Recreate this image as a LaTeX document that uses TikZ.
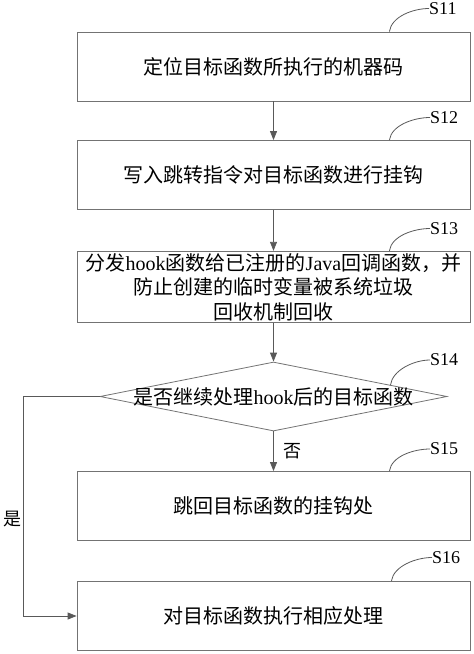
\documentclass[tikz,border=0pt]{standalone}
\usepackage{fontspec}
\setmainfont{Liberation Serif}
\newfontfamily\cjk{Noto Sans CJK SC}
\usetikzlibrary{shapes.geometric, arrows.meta}
\newcommand{\lat}[1]{{\rmfamily #1}}

\begin{document}
\begin{tikzpicture}[
    x=1pt, y=-1pt,
    box/.style={rectangle, draw=black!55, line width=0.8pt, minimum height=69pt, minimum width=393pt, align=center, inner sep=2pt, font=\cjk\fontsize{20}{24.5}\selectfont},
    decision/.style={diamond, draw=black!55, line width=0.8pt, minimum width=347pt, minimum height=69pt, inner sep=0pt},
    steplabel/.style={anchor=west, inner sep=0pt, font=\fontsize{18}{18}\selectfont},
    flow/.style={-{Triangle[length=9pt,width=7pt]}, draw=black!65, line width=0.8pt},
    leader/.style={draw=black!65, line width=0.8pt}
]
    \useasboundingbox (0,0) rectangle (474,654);

    \node[box] (b1) at (273.5,66.5) {定位目标函数所执行的机器码};
    \node[box] (b2) at (273.5,175) {写入跳转指令对目标函数进行挂钩};
    \node[box] (b3) at (273.5,287) {分发\lat{hook}函数给已注册的\lat{Java}回调函数，并\\防止创建的临时变量被系统垃圾\\回收机制回收};
    \node[decision, label={[font=\cjk\fontsize{20}{24}\selectfont]center:是否继续处理\lat{hook}后的目标函数}] (d4) at (273.5,396.5) {};
    \node[box] (b5) at (273.5,506) {跳回目标函数的挂钩处};
    \node[box] (b6) at (273.5,616) {对目标函数执行相应处理};

    \draw[flow] (b1) -- (b2);
    \draw[flow] (b2) -- (b3);
    \draw[flow] (b3) -- (d4);
    \draw[flow] (d4.south) -- node[right, xshift=6pt, font=\cjk\fontsize{18}{18}\selectfont] {否} (b5.north);

    \coordinate (yestop) at (23,396.5);
    \coordinate (yesbot) at (23,616);
    \draw[flow] (d4.west) -- (yestop) -- node[left, pos=0.56, inner sep=1pt, font=\cjk\fontsize{18}{18}\selectfont] {是} (yesbot) -- (b6.west);

    % step numbers
    \node[steplabel] (s11) at (429,8.5) {S11};
    \node[steplabel] (s12) at (430,117.5) {S12};
    \node[steplabel] (s13) at (430,228.5) {S13};
    \node[steplabel] (s14) at (430,360) {S14};
    \node[steplabel] (s15) at (430,449) {S15};
    \node[steplabel] (s16) at (432,557.5) {S16};

    \draw[leader] ([xshift=-81pt]b1.north east) .. controls +(2,-15) and +(-16,0) .. (s11.west);
    \draw[leader] ([xshift=-81pt]b2.north east) .. controls +(2,-15) and +(-16,0) .. (s12.west);
    \draw[leader] ([xshift=-81pt]b3.north east) .. controls +(2,-15) and +(-16,0) .. (s13.west);
    \draw[leader] ([xshift=30pt,yshift=-6pt]d4.north east) .. controls +(2,-15) and +(-16,0) .. (s14.west);
    \draw[leader] ([xshift=-81pt]b5.north east) .. controls +(2,-15) and +(-16,0) .. (s15.west);
    \draw[leader] ([xshift=-79pt]b6.north east) .. controls +(2,-15) and +(-16,0) .. (s16.west);
\end{tikzpicture}
\end{document}
